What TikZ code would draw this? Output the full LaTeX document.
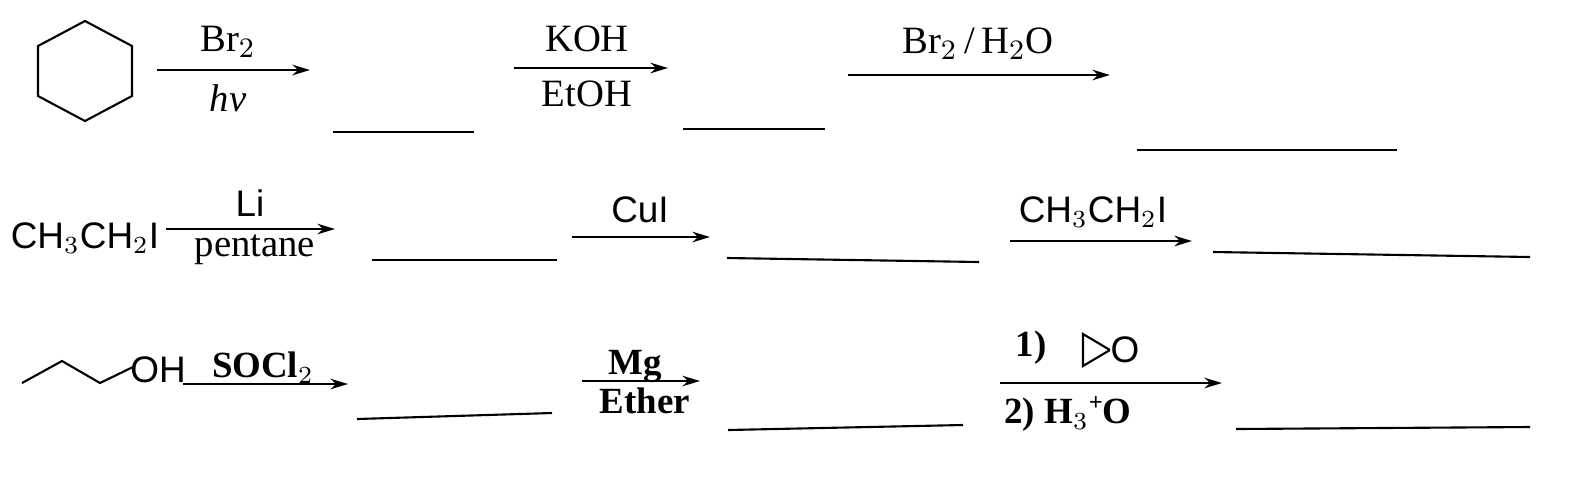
\documentclass[tikz,border=0pt]{standalone}
\usepackage{fontspec}
\usetikzlibrary{arrows.meta}
\setmainfont{Liberation Serif}
\newfontfamily\sansf{Liberation Sans}
\begin{document}
\begin{tikzpicture}[x=0.01cm,y=-0.01cm,
  rx/.style={-{Stealth[length=5pt,width=3pt]},line width=0.6pt},
  bl/.style={line width=0.6pt},
  lb/.style={font=\fontsize{11}{13}\selectfont,inner sep=0pt},
  sl/.style={font=\sansf\fontsize{10.5}{12}\selectfont,inner sep=0pt},
  bd/.style={font=\bfseries\fontsize{10.5}{12}\selectfont,inner sep=0pt}]
\useasboundingbox (0,0) rectangle (1578,490);
% row 1
\draw[bl] (85,21) -- (132,46) -- (132,96) -- (85,121) -- (38,96) -- (38,46) -- cycle;
\coordinate (a1s) at (157,70); \coordinate (a1e) at (310,70);
\draw[rx] (a1s) -- (a1e);
\node[lb] (t1) at (228,42) {Br$_2$};
\node[lb] (t2) at (228,98) {\textit{hv}};
\coordinate (l1a) at (333,132); \coordinate (l1b) at (474,132); \draw[bl] (l1a) -- (l1b);
\coordinate (a2s) at (514,68); \coordinate (a2e) at (668,68);
\draw[rx] (a2s) -- (a2e);
\node[lb] (t3) at (587,39) {KOH};
\node[lb] (t4) at (587,94) {EtOH};
\coordinate (l2a) at (683,129); \coordinate (l2b) at (825,129); \draw[bl] (l2a) -- (l2b);
\coordinate (a3s) at (848,75); \coordinate (a3e) at (1110,75);
\draw[rx] (a3s) -- (a3e);
\node[lb] (t5) at (978,44) {Br$_2$\,/\,H$_2$O};
\coordinate (l3a) at (1137,150); \coordinate (l3b) at (1397,150); \draw[bl] (l3a) -- (l3b);
% row 2
\node[sl] (s1) at (85,238) {CH$_3$CH$_2$I};
\coordinate (b1s) at (166,229); \coordinate (b1e) at (335,229);
\draw[rx] (b1s) -- (b1e);
\node[sl] (t6) at (250,203) {Li};
\node[lb] (t7) at (255,250) {pentane};
\coordinate (m1a) at (372,260); \coordinate (m1b) at (557,260); \draw[bl] (m1a) -- (m1b);
\coordinate (b2s) at (572,237); \coordinate (b2e) at (710,237);
\draw[rx] (b2s) -- (b2e);
\node[sl] (t8) at (640,210) {CuI};
\coordinate (m2a) at (727,258); \coordinate (m2b) at (979,262); \draw[bl] (m2a) -- (m2b);
\coordinate (b3s) at (1010,241); \coordinate (b3e) at (1192,241);
\draw[rx] (b3s) -- (b3e);
\node[sl] (t9) at (1093,212) {CH$_3$CH$_2$I};
\coordinate (m3a) at (1213,252); \coordinate (m3b) at (1530,257); \draw[bl] (m3a) -- (m3b);
% row 3
\draw[bl] (22,383) -- (62,361) -- (100,383) -- (135,366);
\node[sl] (oh) at (158,370) {OH};
\coordinate (c1s) at (183,384); \coordinate (c1e) at (348,384);
\draw[rx] (c1s) -- (c1e);
\node[bd] (t10) at (263,368) {SOCl$_2$};
\coordinate (n1a) at (357,419); \coordinate (n1b) at (552,413); \draw[bl] (n1a) -- (n1b);
\coordinate (c2s) at (582,381); \coordinate (c2e) at (700,381);
\draw[rx] (c2s) -- (c2e);
\node[bd] (t11) at (635,366) {Mg};
\node[bd] (t12) at (645,401) {Ether};
\coordinate (n2a) at (728,430); \coordinate (n2b) at (963,425); \draw[bl] (n2a) -- (n2b);
\node[bd] (t13) at (1031,348) {1)};
\node[sl] (o) at (1125,350) {O};
\draw[bl] (o.west) -- (1083,334) -- (1083,366) -- (o.west);
\coordinate (c3s) at (1000,383); \coordinate (c3e) at (1222,383);
\draw[rx] (c3s) -- (c3e);
\node[bd] (t14) at (1068,414) {2) H$_3$\raisebox{0.8ex}{\scriptsize +}O};
\coordinate (n3a) at (1236,429); \coordinate (n3b) at (1530,427); \draw[bl] (n3a) -- (n3b);
\end{tikzpicture}
\end{document}
